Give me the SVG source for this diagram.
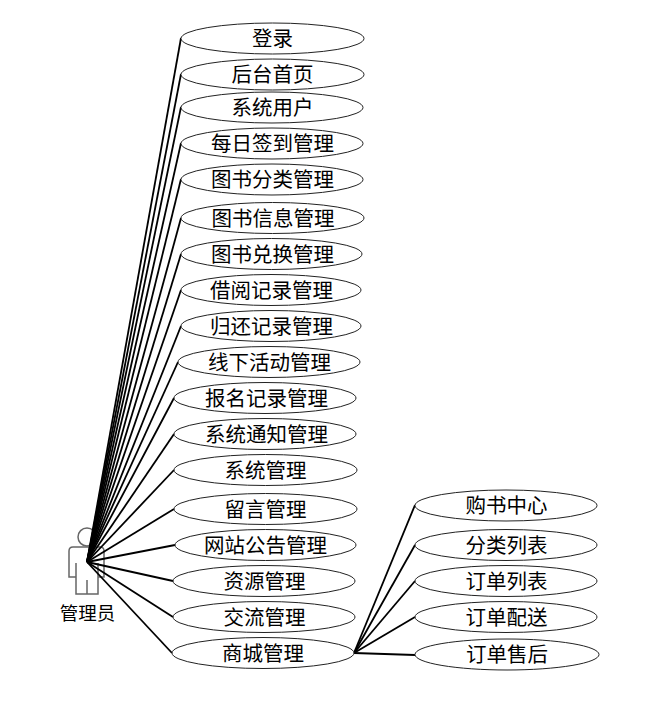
<svg xmlns="http://www.w3.org/2000/svg" width="672" height="706" viewBox="0 0 672 706">
<style>
.n ellipse{fill:#fff;stroke:#222;stroke-width:1}
text{font-family:"Noto Sans CJK SC","Noto Sans",sans-serif;font-size:20.500px;fill:#000;text-anchor:middle}
#connectors line{stroke:#000;stroke-width:1.800}
#actor path,#actor circle{fill:#fff;stroke:#666;stroke-width:1.500}
</style>
<rect width="672" height="706" fill="#fff"/>
<g id="actor">
<circle cx="87" cy="537" r="9"/>
<path d="M73 547H100Q104 547 104 551V577H98V563M76 563V577H69V551Q69 547 73 547M76 563V594H87V580M87 594H98V563"/>
<text x="87.500" y="620" style="font-size:18.500px">管理员</text>
</g>
<g id="connectors">
<line x1="87" y1="562" x2="181" y2="38"/>
<line x1="87" y1="562" x2="181" y2="74"/>
<line x1="87" y1="562" x2="181" y2="107"/>
<line x1="87" y1="562" x2="181" y2="143"/>
<line x1="87" y1="562" x2="181" y2="179"/>
<line x1="87" y1="562" x2="181" y2="218"/>
<line x1="87" y1="562" x2="181" y2="254"/>
<line x1="87" y1="562" x2="181" y2="290"/>
<line x1="87" y1="562" x2="181" y2="326"/>
<line x1="87" y1="562" x2="178" y2="362"/>
<line x1="87" y1="562" x2="174" y2="398"/>
<line x1="87" y1="562" x2="174" y2="434"/>
<line x1="87" y1="562" x2="174" y2="470"/>
<line x1="87" y1="562" x2="174" y2="509"/>
<line x1="87" y1="562" x2="175" y2="545"/>
<line x1="87" y1="562" x2="173" y2="581"/>
<line x1="87" y1="562" x2="173" y2="617"/>
<line x1="87" y1="562" x2="172" y2="653"/>
<line x1="354" y1="653" x2="415" y2="505"/>
<line x1="354" y1="653" x2="415" y2="545"/>
<line x1="354" y1="653" x2="415" y2="581"/>
<line x1="354" y1="653" x2="415" y2="617"/>
<line x1="354" y1="653" x2="415" y2="655"/>
</g>
<g id="n1" class="n"><ellipse cx="272.500" cy="38.500" rx="91.500" ry="15.500"/><text x="272.500" y="46">登录</text></g>
<g id="n2" class="n"><ellipse cx="272.500" cy="74.500" rx="91.500" ry="15.500"/><text x="272.500" y="82">后台首页</text></g>
<g id="n3" class="n"><ellipse cx="272" cy="107.500" rx="91" ry="15.500"/><text x="272.500" y="115">系统用户</text></g>
<g id="n4" class="n"><ellipse cx="272" cy="143.500" rx="91" ry="15.500"/><text x="272.500" y="151">每日签到管理</text></g>
<g id="n5" class="n"><ellipse cx="272" cy="179.500" rx="91" ry="15.500"/><text x="272.500" y="187">图书分类管理</text></g>
<g id="n6" class="n"><ellipse cx="272.500" cy="218" rx="91.500" ry="15.500"/><text x="273" y="226">图书信息管理</text></g>
<g id="n7" class="n"><ellipse cx="271.500" cy="254" rx="90.500" ry="15.500"/><text x="272.500" y="262">图书兑换管理</text></g>
<g id="n8" class="n"><ellipse cx="271" cy="290" rx="90" ry="15.500"/><text x="271.500" y="298">借阅记录管理</text></g>
<g id="n9" class="n"><ellipse cx="271" cy="326" rx="90" ry="15.500"/><text x="271.500" y="334">归还记录管理</text></g>
<g id="n10" class="n"><ellipse cx="269" cy="362" rx="91" ry="15.500"/><text x="269.500" y="370">线下活动管理</text></g>
<g id="n11" class="n"><ellipse cx="265" cy="398" rx="91" ry="15.500"/><text x="266.500" y="406">报名记录管理</text></g>
<g id="n12" class="n"><ellipse cx="265" cy="434" rx="91" ry="15.500"/><text x="266.500" y="442">系统通知管理</text></g>
<g id="n13" class="n"><ellipse cx="265.500" cy="470" rx="91.500" ry="15.500"/><text x="265.500" y="478">系统管理</text></g>
<g id="n14" class="n"><ellipse cx="265.500" cy="509" rx="91.500" ry="15.500"/><text x="265.500" y="517">留言管理</text></g>
<g id="n15" class="n"><ellipse cx="265.500" cy="545" rx="90.500" ry="15.500"/><text x="265.500" y="553">网站公告管理</text></g>
<g id="n16" class="n"><ellipse cx="264" cy="581" rx="91" ry="15.500"/><text x="264.500" y="589">资源管理</text></g>
<g id="n17" class="n"><ellipse cx="264" cy="617" rx="91" ry="15.500"/><text x="264.500" y="625">交流管理</text></g>
<g id="n18" class="n"><ellipse cx="263" cy="653" rx="91" ry="15.500"/><text x="263" y="661">商城管理</text></g>
<g id="n19" class="n"><ellipse cx="506" cy="505.500" rx="91" ry="15.500"/><text x="506.500" y="513">购书中心</text></g>
<g id="n20" class="n"><ellipse cx="506" cy="545" rx="91" ry="15.500"/><text x="506.500" y="553">分类列表</text></g>
<g id="n21" class="n"><ellipse cx="506" cy="581" rx="91" ry="15.500"/><text x="506.500" y="589">订单列表</text></g>
<g id="n22" class="n"><ellipse cx="506" cy="617" rx="91" ry="15.500"/><text x="506.500" y="625">订单配送</text></g>
<g id="n23" class="n"><ellipse cx="507" cy="654.500" rx="92" ry="15.500"/><text x="507" y="662">订单售后</text></g>
</svg>
